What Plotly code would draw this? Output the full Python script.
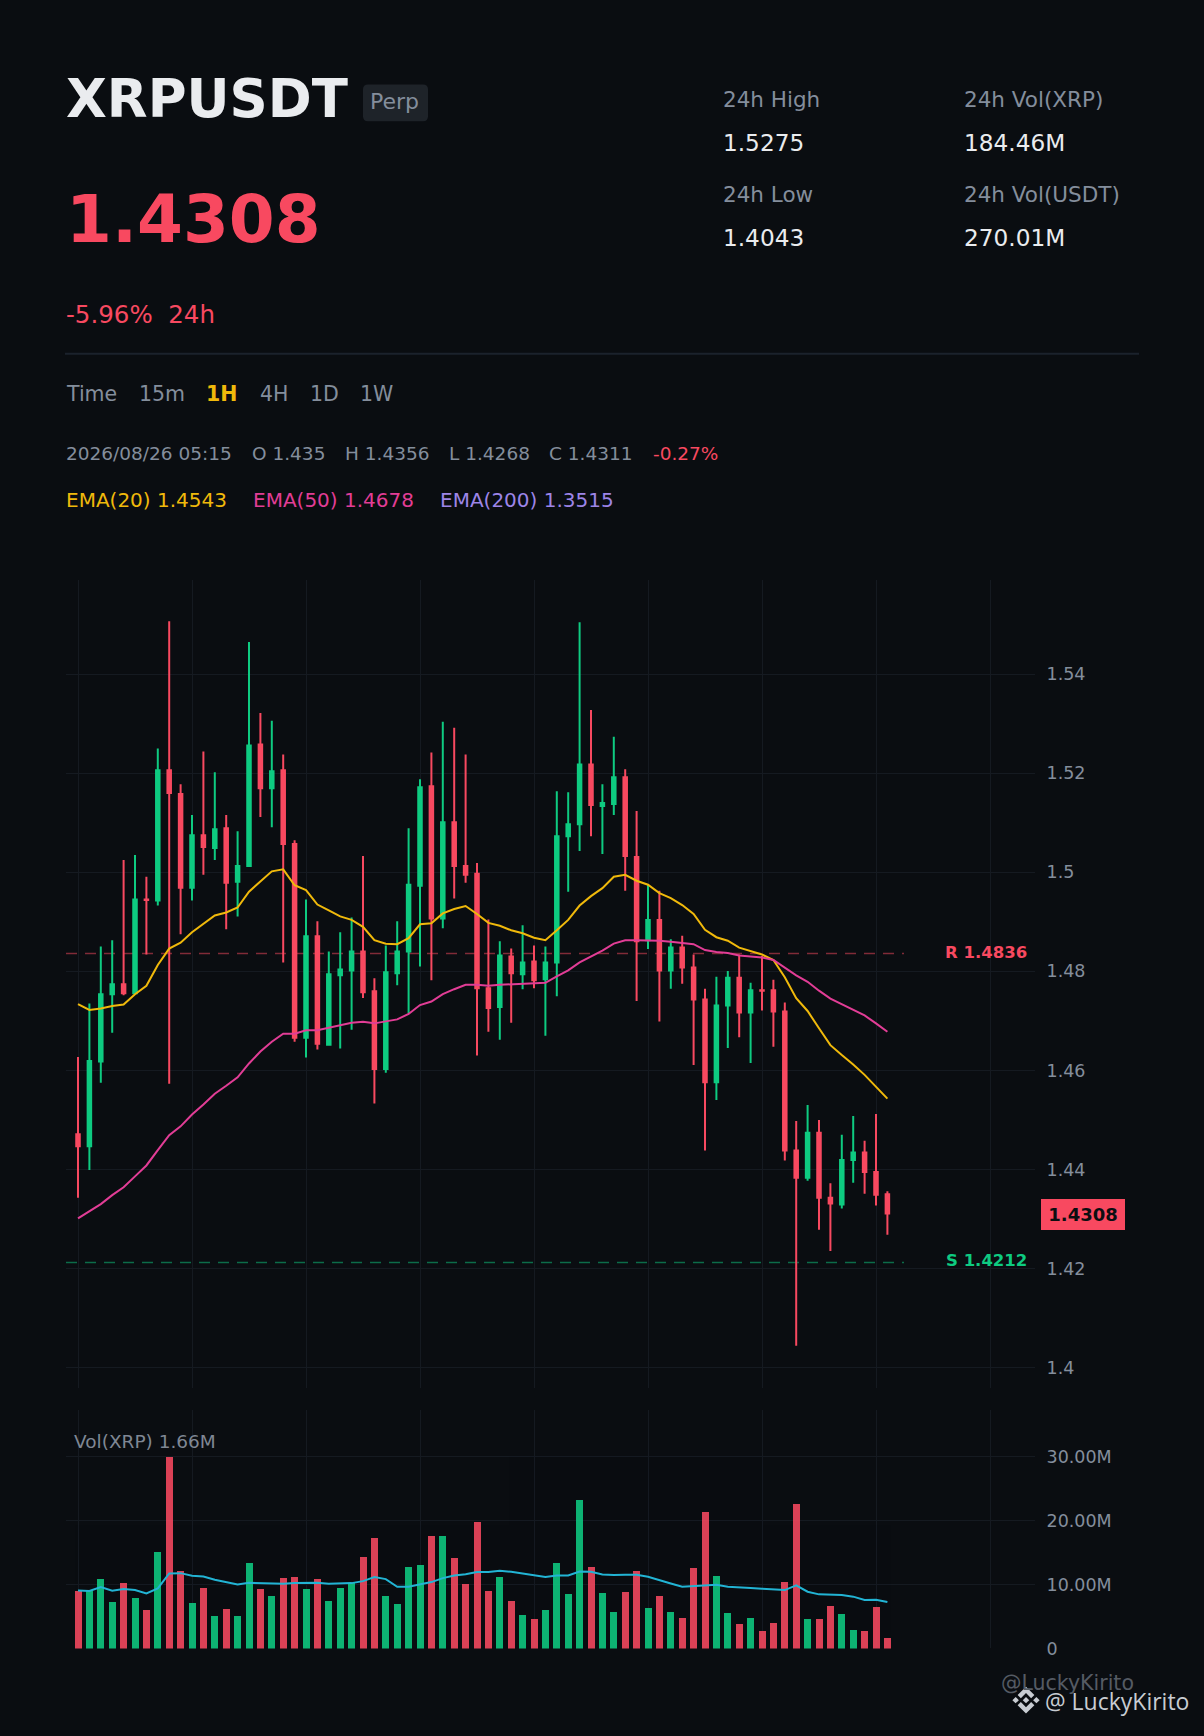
import plotly.graph_objects as go

W, H = 1204, 1736
BG = "#0a0d11"
GRID = "#151a21"
UP, DOWN = "#0ecb81", "#f84960"
MUTED = "#848e9c"
GOLD, PINK, PURPLE, CYAN = "#f0b90b", "#e23d96", "#9d85e8", "#22b4d4"

opens = [1.4471,1.4447,1.4618,1.4754,1.4774,1.4756,1.4945,1.4943,1.5206,1.5158,1.4969,1.5075,1.5049,1.5089,1.4981,1.5013,1.5258,1.5170,1.5206,1.5057,1.4666,1.4871,1.4652,1.4792,1.4802,1.4840,1.4760,1.4603,1.4796,1.4840,1.4973,1.5174,1.4907,1.5101,1.5013,1.4997,1.4766,1.4728,1.4830,1.4794,1.4820,1.4784,1.4818,1.5073,1.5097,1.5218,1.5134,1.5138,1.5192,1.5031,1.4863,1.4904,1.4802,1.4848,1.4808,1.4743,1.4576,1.4731,1.4787,1.4717,1.4762,1.4762,1.4719,1.4438,1.4383,1.4474,1.4343,1.4329,1.4419,1.4434,1.4395,1.4350]
closes = [1.4447,1.4619,1.4754,1.4774,1.4756,1.4945,1.4944,1.5206,1.5160,1.4969,1.5075,1.5051,1.5087,1.4979,1.5013,1.5256,1.5170,1.5204,1.5057,1.4666,1.4871,1.4654,1.4794,1.4804,1.4840,1.4758,1.4603,1.4798,1.4840,1.4975,1.5172,1.4907,1.5101,1.5013,1.4995,1.4766,1.4726,1.4832,1.4796,1.4818,1.4782,1.4818,1.5073,1.5097,1.5218,1.5136,1.5140,1.5192,1.5033,1.4861,1.4904,1.4802,1.4848,1.4808,1.4743,1.4576,1.4731,1.4787,1.4717,1.4762,1.4761,1.4719,1.4438,1.4383,1.4474,1.4343,1.4331,1.4419,1.4434,1.4395,1.4349,1.4311]
highs = [1.4627,1.4735,1.4850,1.4863,1.5025,1.5035,1.4991,1.5250,1.5507,1.5178,1.5116,1.5244,1.5202,1.5116,1.5083,1.5465,1.5322,1.5306,1.5238,1.5065,1.4945,1.4901,1.4840,1.4879,1.4909,1.5033,1.4786,1.4852,1.4901,1.5089,1.5188,1.5242,1.5304,1.5292,1.5238,1.5019,1.4905,1.4861,1.4846,1.4893,1.4852,1.4850,1.5164,1.5162,1.5505,1.5328,1.5178,1.5274,1.5208,1.5124,1.4976,1.4963,1.4865,1.4872,1.4834,1.4765,1.4789,1.4801,1.4834,1.4777,1.4831,1.4783,1.4737,1.4498,1.4530,1.4500,1.4372,1.4470,1.4508,1.4458,1.4512,1.4356]
lows = [1.4343,1.4399,1.4575,1.4676,1.4752,1.4756,1.4834,1.4933,1.4573,1.4875,1.4943,1.4995,1.5025,1.4885,1.4911,1.5011,1.5112,1.5091,1.4818,1.4658,1.4626,1.4642,1.4650,1.4644,1.4682,1.4746,1.4533,1.4595,1.4772,1.4716,1.4810,1.4782,1.4887,1.4947,1.4979,1.4630,1.4678,1.4662,1.4696,1.4764,1.4766,1.4670,1.4750,1.4961,1.5043,1.5073,1.5037,1.5116,1.4963,1.4740,1.4845,1.4699,1.4765,1.4775,1.4611,1.4438,1.4540,1.4645,1.4667,1.4615,1.4721,1.4648,1.4418,1.4044,1.4377,1.4278,1.4235,1.4321,1.4373,1.4351,1.4327,1.4268]
ema20 = [1.4734,1.4722,1.4725,1.4730,1.4733,1.4754,1.4771,1.4813,1.4846,1.4858,1.4879,1.4896,1.4913,1.4919,1.4929,1.4961,1.4982,1.5002,1.5006,1.4974,1.4964,1.4935,1.4923,1.4911,1.4904,1.4890,1.4863,1.4856,1.4855,1.4867,1.4895,1.4897,1.4917,1.4926,1.4932,1.4916,1.4898,1.4892,1.4883,1.4877,1.4868,1.4863,1.4883,1.4904,1.4933,1.4952,1.4968,1.4991,1.4995,1.4983,1.4975,1.4958,1.4948,1.4934,1.4916,1.4884,1.4869,1.4862,1.4848,1.4841,1.4834,1.4823,1.4788,1.4746,1.4720,1.4685,1.4651,1.4631,1.4612,1.4591,1.4567,1.4543]
ema50 = [1.4301,1.4315,1.4330,1.4348,1.4364,1.4386,1.4408,1.4439,1.4469,1.4487,1.4511,1.4531,1.4553,1.4569,1.4586,1.4614,1.4638,1.4658,1.4674,1.4674,1.4681,1.4681,1.4686,1.4690,1.4696,1.4698,1.4695,1.4699,1.4703,1.4714,1.4732,1.4739,1.4754,1.4764,1.4773,1.4773,1.4771,1.4773,1.4774,1.4775,1.4776,1.4777,1.4790,1.4802,1.4818,1.4830,1.4842,1.4856,1.4863,1.4863,1.4863,1.4862,1.4860,1.4858,1.4855,1.4843,1.4839,1.4837,1.4832,1.4830,1.4828,1.4823,1.4808,1.4792,1.4779,1.4761,1.4745,1.4734,1.4723,1.4711,1.4695,1.4678]
volumes = [9.03,9.03,10.9,7.32,10.27,7.94,6.07,15.1,29.9,12.14,7.16,9.5,5.14,6.23,5.14,13.39,9.34,8.25,11.05,11.21,9.34,10.9,7.47,9.5,10.27,14.32,17.28,8.25,7.0,12.77,13.08,17.59,17.59,14.17,10.12,19.77,9.03,11.21,7.47,5.29,4.67,6.07,13.39,8.56,23.2,12.77,8.72,5.76,8.87,12.14,6.38,8.25,5.76,4.83,12.61,21.33,11.36,5.6,3.89,4.83,2.8,4.05,10.43,22.57,4.67,4.67,6.69,5.45,2.96,2.8,6.54,1.66]
vol_ma = [9.08,8.98,9.6,9.03,9.29,9.13,8.61,9.39,11.73,11.78,11.36,11.26,10.74,10.43,10.02,10.27,10.22,10.07,10.12,10.22,10.22,10.27,10.12,10.22,10.22,10.53,11.16,10.85,9.65,9.65,9.96,10.38,11.0,11.42,11.62,11.94,11.97,12.14,11.99,11.68,11.47,11.16,11.42,11.42,12.04,11.99,11.57,11.47,11.52,11.52,11.21,10.74,10.17,9.65,9.76,9.81,9.96,9.65,9.5,9.44,9.34,9.24,9.13,9.86,8.87,8.46,8.41,8.35,8.1,7.58,7.63,7.27]
price_ticks = [1.40,1.42,1.44,1.46,1.48,1.50,1.52,1.54]
price_tick_labels = ["1.4","1.42","1.44","1.46","1.48","1.5","1.52","1.54"]
vol_ticks = [0,10,20,30]
vol_tick_labels = ["0","10.00M","20.00M","30.00M"]
resistance, support, last_price = 1.4836, 1.4212, 1.4308

idx = list(range(len(opens)))
bar_colors = [UP if c >= o else DOWN for o, c in zip(opens, closes)]

def px(x): return x / W
def py(y): return 1 - y / H
def ix(x): return (x - 78) / 11.4  # pixel to candle index

fig = go.Figure()
fig.add_trace(go.Candlestick(x=idx, open=opens, high=highs, low=lows, close=closes, xaxis="x", yaxis="y",
    increasing=dict(line=dict(color=UP, width=2), fillcolor=UP),
    decreasing=dict(line=dict(color=DOWN, width=2), fillcolor=DOWN), showlegend=False))
fig.add_trace(go.Scatter(x=idx, y=ema20, mode="lines", line=dict(color=GOLD, width=2), xaxis="x", yaxis="y", showlegend=False))
fig.add_trace(go.Scatter(x=idx, y=ema50, mode="lines", line=dict(color=PINK, width=2), xaxis="x", yaxis="y", showlegend=False))
fig.add_trace(go.Bar(x=idx, y=volumes, width=0.614, marker=dict(color=bar_colors, line=dict(width=0)), opacity=0.88, xaxis="x2", yaxis="y2", showlegend=False))
fig.add_trace(go.Scatter(x=idx, y=vol_ma, mode="lines", line=dict(color=CYAN, width=2), xaxis="x2", yaxis="y2", showlegend=False))

ann = []
def txt(x, y, s, size, color, bold=False, anchor="left", family="DejaVu Sans"):
    ann.append(dict(x=px(x), y=py(y), xref="paper", yref="paper", text=s, showarrow=False, xanchor=anchor, yanchor="middle",
                    borderpad=0, borderwidth=0, align=anchor,
                    font=dict(family=family, size=size, color=color, weight=700 if bold else 400)))

txt(66, 99, "XRPUSDT", 53, "#eaecef", True)
txt(370, 102, "Perp", 22, MUTED)
txt(66, 221, "1.4308", 66, DOWN, True)
txt(66, 316, "-5.96%\u00a0\u00a024h", 24.5, DOWN)
for x, a, b, c, d in [(722.5, "24h High", "1.5275", "24h Low", "1.4043"), (964, "24h Vol(XRP)", "184.46M", "24h Vol(USDT)", "270.01M")]:
    txt(x, 100, a, 21.5, MUTED)
    txt(x, 143, b, 23.2, "#eaecef")
    txt(x, 196, c, 21.5, MUTED)
    txt(x, 239, d, 23.2, "#eaecef")
for x, s, c, b in [(66, "Time", MUTED, False), (139, "15m", MUTED, False), (206, "1H", GOLD, True), (259.5, "4H", MUTED, False), (310, "1D", MUTED, False), (360, "1W", MUTED, False)]:
    txt(x, 396, s, 20.5, c, b)
for x, s, c in [(66, "2026/08/26 05:15", MUTED), (252, "O 1.435", MUTED), (345, "H 1.4356", MUTED), (449, "L 1.4268", MUTED), (549, "C 1.4311", MUTED), (653, "-0.27%", DOWN)]:
    txt(x, 456, s, 18.5, c)
for x, s, c in [(66, "EMA(20) 1.4543", GOLD), (253, "EMA(50) 1.4678", PINK), (440, "EMA(200) 1.3515", PURPLE)]:
    txt(x, 503, s, 20, c)
txt(74, 1450, "Vol(XRP) 1.66M", 18.5, "#7f8794")
txt(1027, 958, "R 1.4836", 16.5, DOWN, True, "right")
txt(1027, 1268, "S 1.4212", 16.5, UP, True, "right")
txt(1001, 1693, "@LuckyKirito", 20.5, "#555b64")
txt(1045, 1711, "@ LuckyKirito", 23, "#c8ccd2", False, "left", "Open Sans")
ann.append(dict(x=px(1083), y=last_price, xref="paper", yref="y", text="1.4308", showarrow=False, xanchor="center", yanchor="middle",
                width=84, height=31, bgcolor=DOWN, borderpad=0, borderwidth=0,
                font=dict(family="DejaVu Sans", size=18, color="#0b0e11", weight=700)))

shapes = [
    dict(type="line", xref="x", yref="y", x0=ix(66), x1=ix(904), y0=resistance, y1=resistance, layer="below", line=dict(color="rgba(248,73,96,0.5)", width=1.6, dash="11px,8px")),
    dict(type="line", xref="x", yref="y", x0=ix(66), x1=ix(904), y0=support, y1=support, layer="below", line=dict(color="rgba(14,203,129,0.5)", width=1.6, dash="11px,8px")),
    dict(type="rect", xref="paper", yref="paper", x0=px(65), x1=px(1139), y0=py(354.7), y1=py(356.7), fillcolor="#1b222c", line=dict(width=0)),
]
# rounded badge behind "Perp"
x0, x1, y0, y1, r = 363, 428, 85, 122, 5
def pt(x, y): return f"{px(x)},{py(y)}"
shapes.append(dict(type="path", xref="paper", yref="paper", fillcolor="#1e2329", line=dict(width=0), layer="below",
    path=f"M{pt(x0+r,y0)} L{pt(x1-r,y0)} Q{pt(x1,y0)} {pt(x1,y0+r)} L{pt(x1,y1-r)} Q{pt(x1,y1)} {pt(x1-r,y1)} L{pt(x0+r,y1)} Q{pt(x0,y1)} {pt(x0,y1-r)} L{pt(x0,y0+r)} Q{pt(x0,y0)} {pt(x0+r,y0)} Z"))
# Binance mark in the watermark
cx, cy, R_ = 1026, 1710, 13.5
def poly(points):
    return "M" + " L".join(pt(cx + a * R_, cy + b * R_) for a, b in points) + " Z"
mark = [
    [(0,-1),(.62,-.38),(.38,-.14),(0,-.53),(-.38,-.14),(-.62,-.38)],
    [(0,1),(.62,.38),(.38,.14),(0,.53),(-.38,.14),(-.62,.38)],
    [(0,-.24),(.24,0),(0,.24),(-.24,0)],
    [(-.77,-.24),(-.53,0),(-.77,.24),(-1.01,0)],
    [(.77,-.24),(1.01,0),(.77,.24),(.53,0)],
]
for m in mark:
    shapes.append(dict(type="path", xref="paper", yref="paper", fillcolor="#c8ccd2", line=dict(width=0), path=poly(m)))

xbase = dict(range=[ix(66), ix(1035)], tickvals=list(range(0, 90, 10)), showticklabels=False, ticks="",
             showgrid=True, gridcolor=GRID, gridwidth=1, zeroline=False, showline=False, rangeslider=dict(visible=False))
ybase = dict(side="right", showgrid=True, gridcolor=GRID, gridwidth=1, zeroline=False, showline=False, ticks="outside",
             ticklen=7, tickcolor="rgba(0,0,0,0)", tickfont=dict(family="DejaVu Sans", size=17.5, color=MUTED))
fig.update_layout(
    width=W, height=H, margin=dict(l=0, r=0, t=0, b=0), paper_bgcolor=BG, plot_bgcolor=BG,
    showlegend=False, boxgap=0.56, bargap=0, hovermode=False,
    xaxis=dict(domain=[px(66), px(1035)], anchor="y", **xbase),
    xaxis2=dict(domain=[px(66), px(1035)], anchor="y2", **xbase),
    yaxis=dict(domain=[py(1396), py(583)], range=[1.40 + (1375.4 - 1396) / 4980, 1.40 + (1375.4 - 583) / 4980], anchor="x",
               tickvals=price_ticks, ticktext=price_tick_labels, **ybase),
    yaxis2=dict(domain=[py(1658), py(1418)], range=[0, 240 / 6.43], anchor="x2",
                tickvals=vol_ticks, ticktext=vol_tick_labels, **ybase),
    annotations=ann, shapes=shapes,
)
fig.write_html("out.html", config=dict(displayModeBar=False),
               post_script=f"document.body.style.margin='0';document.body.style.background='{BG}';")
